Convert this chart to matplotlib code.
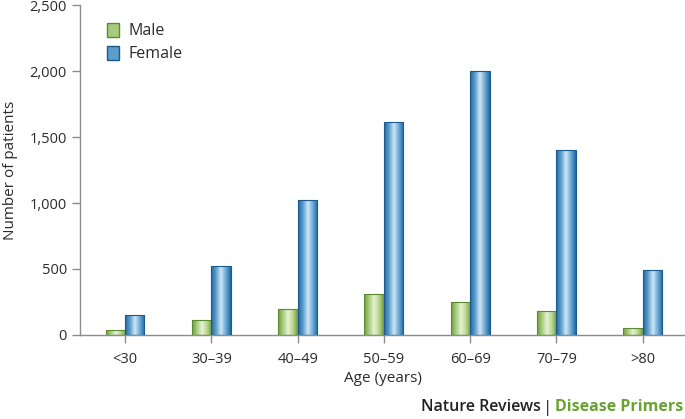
import numpy as np
import matplotlib
matplotlib.use('Agg')
import matplotlib.pyplot as plt
from matplotlib.colors import LinearSegmentedColormap
from matplotlib.patches import Patch

plt.rcParams['font.family'] = ['Open Sans', 'DejaVu Sans']

# Data
age_groups = ['<30', '30\u201339', '40\u201349', '50\u201359', '60\u201369', '70\u201379', '>80']
male = [40, 110, 200, 310, 250, 185, 55]
female = [150, 525, 1020, 1610, 2000, 1400, 490]
y_ticks = [0, 500, 1000, 1500, 2000, 2500]
y_tick_labels = ['0', '500', '1,000', '1,500', '2,000', '2,500']

text_col = '#2b2b2b'
axis_col = '#8c8c8c'

# Cylinder-like shading for bars
green_cmap = LinearSegmentedColormap.from_list(
    'g', ['#6e9c3e', '#a8cc7c', '#e6f2d4', '#b9d78f', '#6e9c3e'])
blue_cmap = LinearSegmentedColormap.from_list(
    'b', ['#1f66a0', '#5c9dcc', '#cfe6f6', '#6aa9d6', '#1f66a0'])
grad = np.linspace(0, 1, 256).reshape(1, -1)

fig = plt.figure(figsize=(6.85, 4.19), dpi=100)
ax = fig.add_axes([0.117, 0.2005, 0.883, 0.7875])

x = np.arange(len(age_groups))
w = 0.225


def shaded_bars(xpos, heights, cmap, edge):
    bars = ax.bar(xpos, heights, w, color='none', edgecolor=edge, linewidth=0.8, zorder=3)
    for b in bars:
        x0, y0 = b.get_x(), b.get_y()
        im = ax.imshow(grad, cmap=cmap, aspect='auto', zorder=2,
                       extent=[x0, x0 + b.get_width(), y0, y0 + b.get_height()])
        im.set_clip_path(b)
    return bars


shaded_bars(x - w / 2, male, green_cmap, '#5b8a32')
shaded_bars(x + w / 2, female, blue_cmap, '#1c5a8e')

ax.set_xlim(-0.52, 6.49)
ax.set_ylim(0, 2500)
ax.set_yticks(y_ticks)
ax.set_yticklabels(y_tick_labels)
ax.set_xticks(x)
ax.set_xticklabels(age_groups)

for s in ['top', 'right']:
    ax.spines[s].set_visible(False)
for s in ['left', 'bottom']:
    ax.spines[s].set_color(axis_col)
    ax.spines[s].set_linewidth(1.0)
ax.tick_params(axis='both', colors=axis_col, labelcolor=text_col, labelsize=10.5, length=6, width=1.0)
ax.tick_params(axis='x', pad=6)

ax.set_xlabel('Age (years)', fontsize=11, color=text_col, labelpad=3)
ax.set_ylabel('Number of patients', fontsize=11, color=text_col, labelpad=8)

handles = [Patch(facecolor='#a8cc7c', edgecolor='#5b8a32', label='Male'),
           Patch(facecolor='#5c9dcc', edgecolor='#1c5a8e', label='Female')]
ax.legend(handles=handles, loc='upper left', bbox_to_anchor=(0.02, 0.99), frameon=False,
          fontsize=11.5, labelcolor=text_col, handlelength=0.8, handleheight=1.0,
          handletextpad=0.6, labelspacing=0.4)

fig.text(0.789, 0.018, 'Nature Reviews', fontsize=11.5, fontweight='semibold', color='#222222', ha='right')
fig.text(0.8, 0.016, '|', fontsize=12.5, color='#222222', ha='center')
fig.text(0.997, 0.018, 'Disease Primers', fontsize=11.5, fontweight='bold', color='#6aa332', ha='right')

fig.savefig('out.png', dpi=100)
